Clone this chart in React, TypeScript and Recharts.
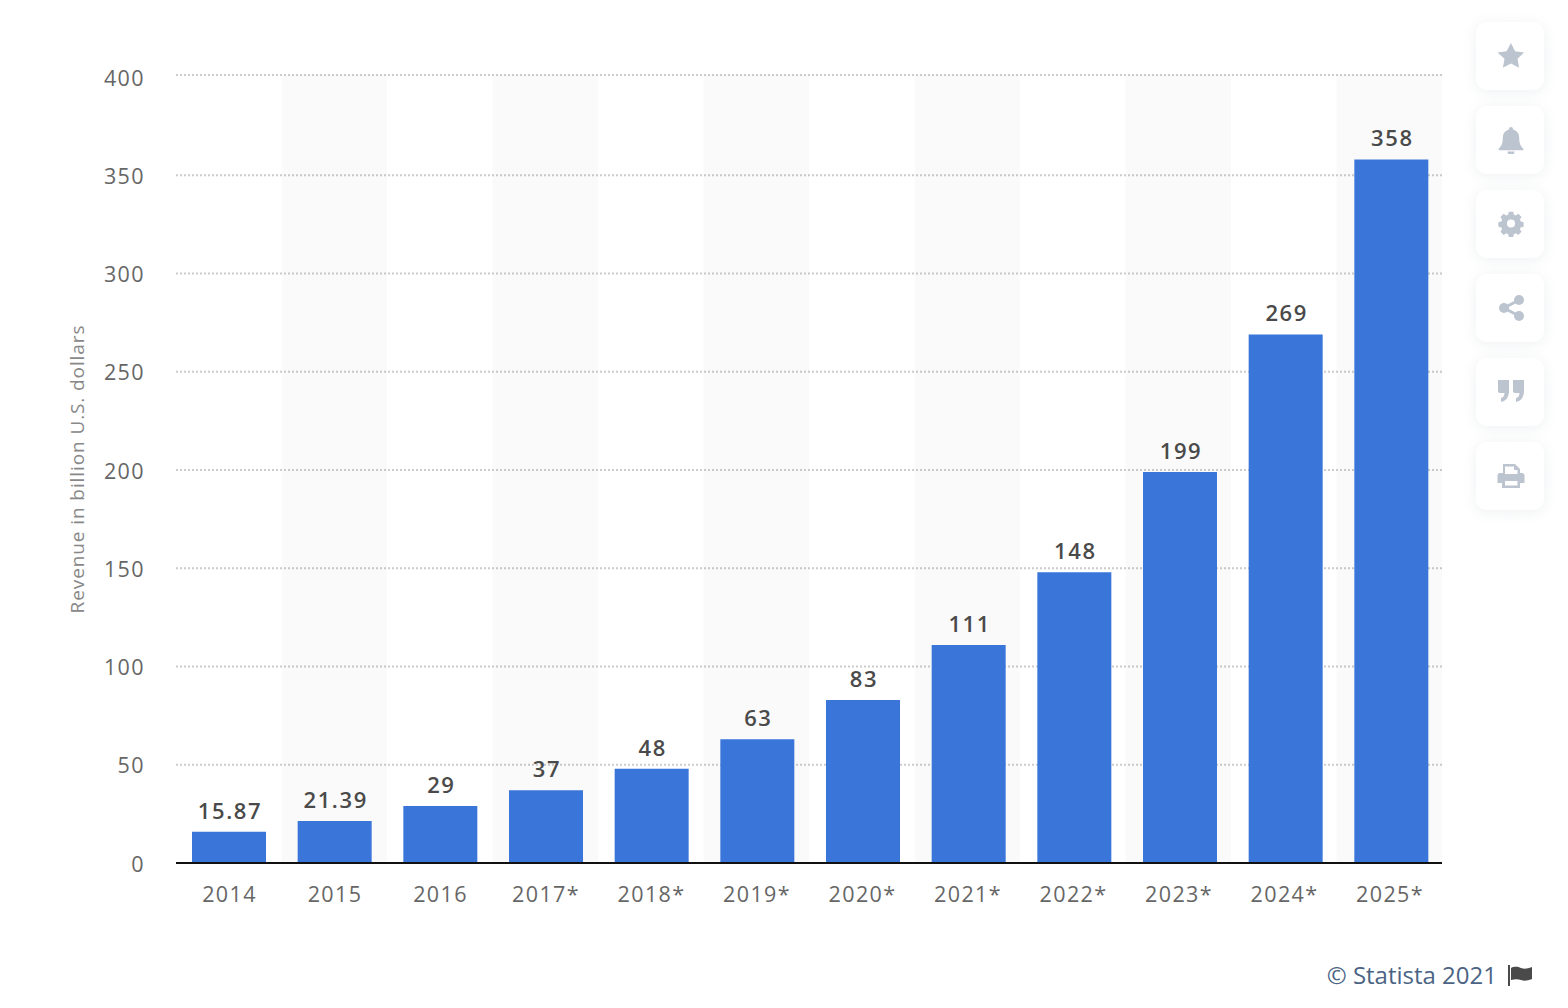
import React from "react";
import { BarChart, Bar, XAxis, YAxis, CartesianGrid, ReferenceArea, LabelList } from "recharts";

const categories = ["2014", "2015", "2016", "2017*", "2018*", "2019*", "2020*", "2021*", "2022*", "2023*", "2024*", "2025*"];
const revenue = [15.87, 21.39, 29, 37, 48, 63, 83, 111, 148, 199, 269, 358];
const yTicks = [0, 50, 100, 150, 200, 250, 300, 350, 400];
const gridValues = [50, 100, 150, 200, 250, 300, 350, 401];
const yDomain = [0, 401];
const shadedCategories = ["2015", "2017*", "2019*", "2021*", "2023*", "2025*"];
const yAxisTitle = "Revenue in billion U.S. dollars";
const credit = "© Statista 2021";

const chartData = categories.map((year, i) => ({ year, revenue: revenue[i] }));
const FONT = "'Open Sans', sans-serif";
const ICON = "#bcc4d0";

const icons: React.ReactNode[] = [
  <path key="star" d="M14 1l4 8.300 9 1.200-6.500 6.300 1.600 9-8.100-4.300-8.100 4.300 1.600-9L.5 10.500l9-1.200z" />,
  <g key="bell">
    <path d="M14 1c1.200 0 2 .8 2 2v.6c4 1 6.200 4.200 6.200 8.400 0 6 1.600 8 4 10.600.6.7.2 1.600-.7 1.600H2.500c-.9 0-1.300-.9-.7-1.600 2.400-2.600 4-4.600 4-10.600 0-4.200 2.200-7.400 6.200-8.400V3c0-1.200.8-2 2-2z" />
    <path d="M10.500 25.500h7a3.500 3.200 0 0 1-7 0z" />
  </g>,
  <path key="gear" fillRule="evenodd" d="M11.500 2h5l.7 3.200 2.200.9 2.800-1.800 3.500 3.500-1.800 2.800.9 2.200 3.200.7v5l-3.200.7-.9 2.200 1.800 2.800-3.500 3.500-2.800-1.800-2.200.9-.7 3.200h-5l-.7-3.200-2.200-.9-2.800 1.800-3.500-3.500 1.800-2.800-.9-2.200-3.200-.7v-5l3.200-.7.9-2.200-1.800-2.800 3.500-3.500 2.800 1.800 2.200-.9zM14 10.500a4.500 4.500 0 1 0 0 9 4.500 4.500 0 0 0 0-9z" transform="translate(1.400 0) scale(0.9)" />,
  <g key="share">
    <circle cx="7" cy="14" r="5" />
    <circle cx="22" cy="6" r="5" />
    <circle cx="22" cy="22" r="5" />
    <path d="M7 14L22 6M7 14l15 8" stroke={ICON} strokeWidth="3" fill="none" />
  </g>,
  <path key="quote" d="M1 2h11v11c0 6-3 10-8 11v-4c2-.5 3.500-2 3.500-5H3c-1.200 0-2-.8-2-2zM16 2h11v11c0 6-3 10-8 11v-4c2-.5 3.500-2 3.500-5H18c-1.200 0-2-.8-2-2z" />,
  <path key="print" fillRule="evenodd" d="M6 2h12l5 5v4h2c1.500 0 2.500 1 2.500 2.500V21H23v5H5v-5H.5v-7.500C.5 12 1.500 11 3 11h3zm2 2.500V12h12.500V8H17V4.500zM8 19v4.500h12.500V19z" />,
];

const Card = ({ top, children }: { top: number; children: React.ReactNode }) => (
  <div
    style={{
      position: "absolute",
      left: 1476,
      top,
      width: 68,
      height: 68,
      borderRadius: 11,
      background: "#fff",
      boxShadow: "0 2px 14px rgba(90,105,130,0.10)",
    }}
  >
    <svg width={28} height={28} viewBox="0 0 28 28" fill={ICON} style={{ position: "absolute", left: 20.5, top: 19.5 }}>
      {children}
    </svg>
  </div>
);

export default function App() {
  return (
    <div style={{ position: "absolute", left: 0, top: 0, width: 1568, height: 1008, background: "#fff", overflow: "hidden" }}>
      <BarChart
        width={1568}
        height={1008}
        data={chartData}
        margin={{ top: 75, right: 126, bottom: 0, left: 0 }}
        barSize={74}
      >
        {shadedCategories.map((c) => (
          <ReferenceArea key={c} x1={c} x2={c} y1={0} y2={401} fill="#000" fillOpacity={0.02} stroke="none" ifOverflow="visible" />
        ))}
        <CartesianGrid
          vertical={false}
          horizontalValues={gridValues}
          stroke="#cccccc"
          strokeWidth={2}
          strokeDasharray="2 2"
        />
        <XAxis
          dataKey="year"
          height={145}
          interval={0}
          tickLine={false}
          tickSize={0}
          tickMargin={24}
          axisLine={{ stroke: "#111", strokeWidth: 2 }}
          tick={{ fill: "#666", fontSize: 21.5, fontFamily: FONT, letterSpacing: 1.4, dx: 0.8 }}
        />
        <XAxis xAxisId="bars" dataKey="year" hide padding={{ left: 0, right: -2 }} />
        <YAxis
          domain={yDomain}
          ticks={yTicks}
          width={176}
          axisLine={false}
          tickLine={false}
          tickSize={0}
          tickMargin={31}
          interval={0}
          tick={{ fill: "#666", fontSize: 21.5, fontFamily: FONT, letterSpacing: 1.4, dy: 1 }}
          label={{
            value: yAxisTitle,
            angle: -90,
            position: "insideLeft",
            offset: 77,
            style: { fill: "#888", fontSize: 19, fontFamily: FONT, textAnchor: "middle", letterSpacing: 0.9 },
          }}
        />
        <Bar dataKey="revenue" xAxisId="bars" fill="#3a75d9" isAnimationActive={false}>
          <LabelList
            dataKey="revenue"
            position="top"
            offset={13}
            dx={1}
            style={{ fill: "#4a4a4a", fontSize: 22, fontWeight: 600, fontFamily: FONT, letterSpacing: 1.6 }}
          />
        </Bar>
      </BarChart>

      {icons.map((icon, i) => (
        <Card key={i} top={22 + i * 84}>
          {icon}
        </Card>
      ))}

      <div
        style={{
          position: "absolute",
          right: 71,
          top: 958,
          fontFamily: FONT,
          fontSize: 24,
          lineHeight: "34px",
          color: "#4b6484",
          whiteSpace: "nowrap",
        }}
      >
        {credit}
      </div>
      <svg width={28} height={24} viewBox="0 0 28 24" style={{ position: "absolute", left: 1506, top: 964 }}>
        <rect x={2} y={1} width={2} height={21} fill="#4a4a4a" />
        <path d="M5 4c4-2 7-1 10 0s6 1 11-1v12c-5 2-8 2-11 1s-6-1-10 0z" fill="#4a4a4a" />
      </svg>
    </div>
  );
}
